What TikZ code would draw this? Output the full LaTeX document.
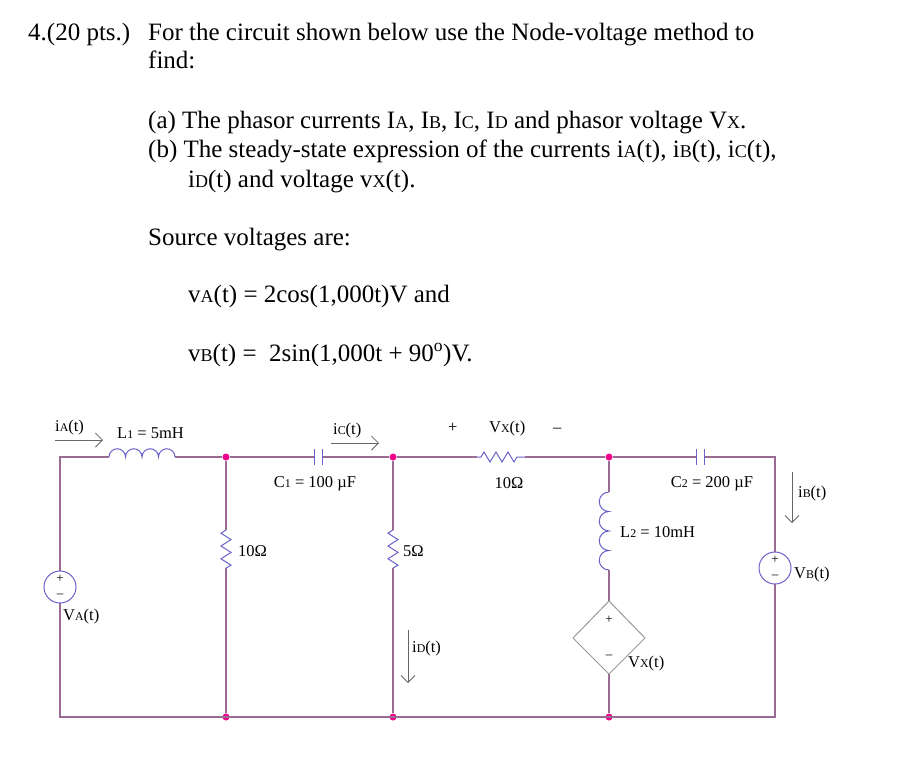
\documentclass[tikz,border=0pt]{standalone}
\usepackage{fontspec}
\setmainfont{Liberation Serif}
\usepackage{graphicx}
\usetikzlibrary{arrows.meta}
\newcommand\sm[1]{\scalebox{0.72}{#1}}
\begin{document}
\begin{tikzpicture}[x=1pt,y=-1pt,
  wire/.style={draw=wirec,line width=1.2pt},
  comp/.style={draw=compc,line width=1pt},
  dot/.style={circle,fill=magenta,inner sep=0pt,minimum size=7pt},
  lbl/.style={anchor=base west,inner sep=0pt,font=\fontsize{16.5}{18}\selectfont},
  ttl/.style={anchor=base west,inner sep=0pt,font=\fontsize{25}{28}\selectfont},
  sgn/.style={inner sep=0pt,font=\fontsize{13}{13}\selectfont},
  arr/.style={draw=gray!80!black,line width=0.8pt,-{Straight Barb[length=7pt,width=14pt]}}]
\definecolor{wirec}{HTML}{9A6C94}
\definecolor{compc}{HTML}{6A62C8}
\useasboundingbox (0,0) rectangle (898,774);
% title
\node[ttl] (t0) at (28,40) {4.(20 pts.)};
\node[ttl] (t1) at (148,40) {For the circuit shown below use the Node-voltage method to};
\node[ttl] (t2) at (148,68) {find:};
\node[ttl] (t3) at (148,128) {(a) The phasor currents I\sm{A}, I\sm{B}, I\sm{C}, I\sm{D} and phasor voltage V\sm{X}.};
\node[ttl] (t4) at (148,157) {(b) The steady-state expression of the currents i\sm{A}(t), i\sm{B}(t), i\sm{C}(t),};
\node[ttl] (t5) at (188,187) {i\sm{D}(t) and voltage v\sm{X}(t).};
\node[ttl] (t6) at (148,245) {Source voltages are:};
\node[ttl] (t7) at (188,302) {v\sm{A}(t) = 2cos(1,000t)V and};
\node[ttl] (t8) at (188,361) {v\sm{B}(t) =\ \ 2sin(1,000t + 90\textsuperscript{o})V.};
% coordinates
\coordinate (tl) at (60,457); \coordinate (bl) at (60,717);
\coordinate (vat) at (60,571); \coordinate (vab) at (60,603);
\coordinate (l1a) at (109,457); \coordinate (l1b) at (175,457);
\node[dot] (n1) at (226,457) {}; \node[dot] (b1) at (226,717) {};
\coordinate (r1a) at (226,530); \coordinate (r1b) at (226,568);
\coordinate (c1a) at (314,457); \coordinate (c1b) at (322,457);
\node[dot] (n2) at (393,457) {}; \node[dot] (b2) at (393,717) {};
\coordinate (r2a) at (393,530); \coordinate (r2b) at (393,568);
\coordinate (r3a) at (477,457); \coordinate (r3b) at (525,457);
\node[dot] (n3) at (609,457) {}; \node[dot] (b3) at (609,717) {};
\coordinate (l2a) at (609,492); \coordinate (l2b) at (609,570);
\coordinate (dt) at (609,601); \coordinate (db) at (609,674);
\coordinate (c2a) at (696,457); \coordinate (c2b) at (704,457);
\coordinate (tr) at (775,457); \coordinate (br) at (775,717);
\coordinate (vbt) at (775,552); \coordinate (vbb) at (775,584);
% wires
\draw[wire] (vat) -- (tl) -- (l1a);
\draw[wire] (vab) -- (bl) -- (br) -- (vbb);
\draw[wire] (vbt) -- (tr) -- (c2b);
\draw[wire] (l1b) -- (n1) -- (c1a);
\draw[wire] (c1b) -- (n2) -- (r3a);
\draw[wire] (r3b) -- (n3) -- (c2a);
\draw[wire] (n1) -- (r1a); \draw[wire] (r1b) -- (b1);
\draw[wire] (n2) -- (r2a); \draw[wire] (r2b) -- (b2);
\draw[wire] (n3) -- (l2a); \draw[wire] (l2b) -- (dt); \draw[wire] (db) -- (b3);
% components
\draw[comp] (l1a) arc[start angle=180,end angle=360,radius=8.25] arc[start angle=180,end angle=360,radius=8.25] arc[start angle=180,end angle=360,radius=8.25] arc[start angle=180,end angle=360,radius=8.25];
\draw[comp] (l2a) arc[start angle=270,end angle=90,radius=9.75] arc[start angle=270,end angle=90,radius=9.75] arc[start angle=270,end angle=90,radius=9.75] arc[start angle=270,end angle=90,radius=9.75];
\draw[comp] (r1a) -- ++(-5,3.2) -- ++(10,6.4) -- ++(-10,6.4) -- ++(10,6.4) -- ++(-10,6.4) -- ++(10,6.4) -- (r1b);
\draw[comp] (r2a) -- ++(-5,3.2) -- ++(10,6.4) -- ++(-10,6.4) -- ++(10,6.4) -- ++(-10,6.4) -- ++(10,6.4) -- (r2b);
\draw[comp] (r3a) -- (481,457) -- ++(3,-5) -- ++(6,10) -- ++(6,-10) -- ++(6,10) -- ++(6,-10) -- ++(6,10) -- ++(3,-5) -- (r3b);
\draw[comp] (c1a) ++(0,-8) -- ++(0,16) (c1b) ++(0,-8) -- ++(0,16);
\draw[comp] (c2a) ++(0,-8) -- ++(0,16) (c2b) ++(0,-8) -- ++(0,16);
\node[circle,comp,minimum size=32pt,inner sep=0pt] (va) at (60,587) {};
\node[sgn] (vap) at (60,579) {+};
\node[sgn] (vam) at (60,596) {--};
\node[circle,comp,minimum size=32pt,inner sep=0pt] (vb) at (775,568) {};
\node[sgn] (vbp) at (775,560) {+};
\node[sgn] (vbm) at (775,577) {--};
\draw[draw=gray!80,line width=1pt] (dt) -- (645,638) -- (db) -- (573,638) -- cycle;
\node[sgn] (dp) at (609,620) {+};
\node[sgn] (dm) at (609,657) {--};
% labels
\node[lbl] (lia) at (55,431) {i\sm{A}(t)};
\coordinate (aa1) at (55,440); \coordinate (aa2) at (103,440);
\draw[arr] (aa1) -- (aa2);
\node[lbl] (ll1) at (117,438) {L\sm{1} = 5mH};
\node[lbl] (lic) at (333,434) {i\sm{C}(t)};
\coordinate (ac1) at (331,443); \coordinate (ac2) at (379,443);
\draw[arr] (ac1) -- (ac2);
\node[lbl] (lp) at (448,432) {+};
\node[lbl] (lvx) at (489,432) {V\sm{X}(t)};
\node[lbl] (lm) at (553,432) {--};
\node[lbl,anchor=base] (lr3) at (509,488) {10Ω};
\node[lbl,anchor=base] (lc1) at (315,487) {C\sm{1} = 100 µF};
\node[lbl,anchor=base] (lc2) at (712,487) {C\sm{2} = 200 µF};
\node[lbl] (lib) at (798,497) {i\sm{B}(t)};
\coordinate (ab1) at (792,472); \coordinate (ab2) at (792,523);
\draw[arr] (ab1) -- (ab2);
\node[lbl] (ll2) at (620,537) {L\sm{2} = 10mH};
\node[lbl] (lvb) at (794,578) {V\sm{B}(t)};
\node[lbl] (lva) at (63,620) {V\sm{A}(t)};
\node[lbl] (lr1) at (238,556) {10Ω};
\node[lbl] (lr2) at (403,556) {5Ω};
\node[lbl] (lid) at (412,652) {i\sm{D}(t)};
\coordinate (ad1) at (408,630); \coordinate (ad2) at (408,683);
\draw[arr] (ad1) -- (ad2);
\node[lbl] (ldx) at (628,667) {V\sm{X}(t)};
\end{tikzpicture}
\end{document}
